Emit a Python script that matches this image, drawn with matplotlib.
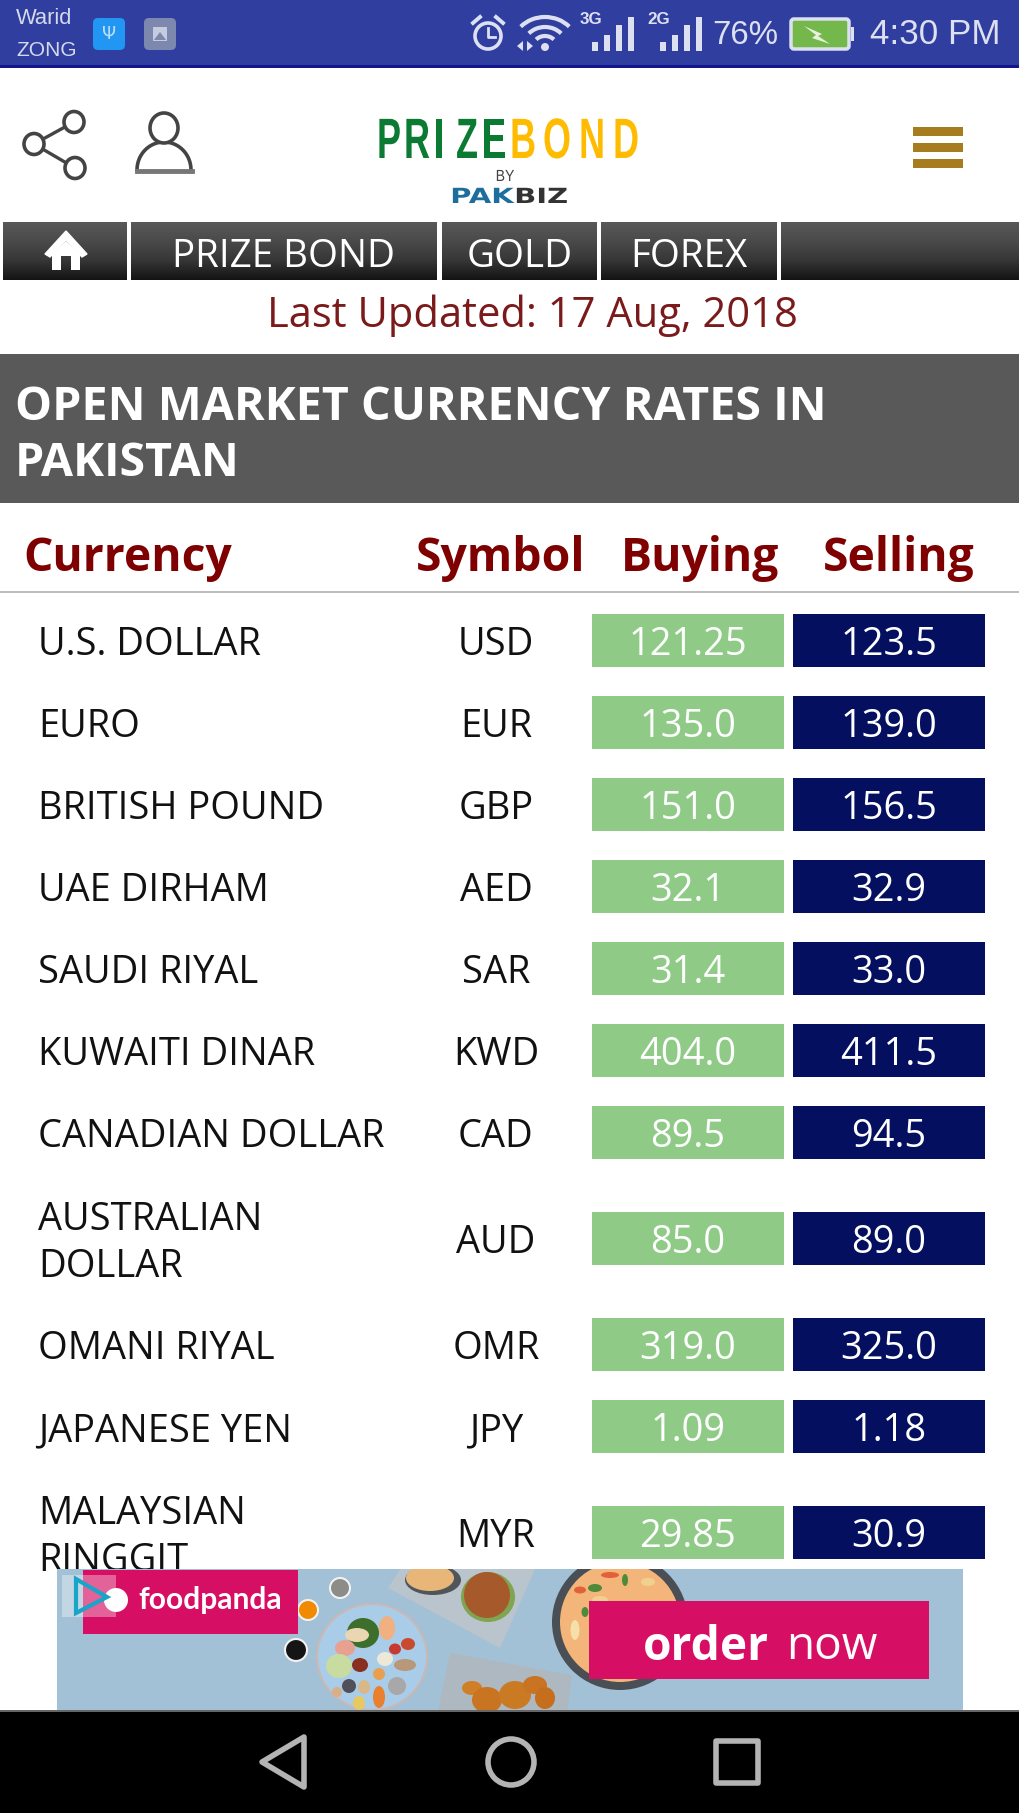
import numpy as np
import matplotlib
matplotlib.use('Agg')
import matplotlib.pyplot as plt
import matplotlib.patheffects as pe
from matplotlib.transforms import Affine2D
from matplotlib.patches import Circle, Ellipse, Polygon, Rectangle, FancyBboxPatch, Arc

# table content
currencies = ['U.S. DOLLAR', 'EURO', 'BRITISH POUND', 'UAE DIRHAM', 'SAUDI RIYAL', 'KUWAITI DINAR',
              'CANADIAN DOLLAR', 'AUSTRALIAN\nDOLLAR', 'OMANI RIYAL', 'JAPANESE YEN', 'MALAYSIAN\nRINGGIT']
symbols = ['USD', 'EUR', 'GBP', 'AED', 'SAR', 'KWD', 'CAD', 'AUD', 'OMR', 'JPY', 'MYR']
buying = ['121.25', '135.0', '151.0', '32.1', '31.4', '404.0', '89.5', '85.0', '319.0', '1.09', '29.85']
selling = ['123.5', '139.0', '156.5', '32.9', '33.0', '411.5', '94.5', '89.0', '325.0', '1.18', '30.9']
headers = ['Currency', 'Symbol', 'Buying', 'Selling']
nav_items = ['PRIZE BOND', 'GOLD', 'FOREX']

W, H = 1020, 1813
FONT = 'Open Sans'
SANS = 'Liberation Sans'
ICON = '#DDE0F0'

fig = plt.figure(figsize=(W / 100, H / 100), dpi=100)
ax = fig.add_axes([0, 0, 1, 1])


class VStretch(pe.AbstractPathEffect):
    # stretches glyphs vertically around a baseline, the logo lettering is very condensed
    def __init__(self, sy, y0):
        super().__init__()
        self.sy, self.y0 = sy, y0

    def draw_path(self, renderer, gc, tpath, affine, rgbFace=None):
        a = affine + Affine2D().translate(0, -self.y0).scale(1, self.sy).translate(0, self.y0)
        renderer.draw_path(gc, tpath, a, rgbFace)


def txt(x, y, s, px, color='black', ha='center', weight='normal', family=FONT, z=5, dy=5):
    # px is the font size in image pixels
    return ax.text(x, y + dy, s, fontsize=px * 0.72, color=color, ha=ha, va='center',
                   fontweight=weight, family=family, zorder=z)


def stretched(x, base, s, px, sy, color, weight='bold', family=SANS, z=5):
    t = ax.text(x, base, s, fontsize=px * 0.72, color=color, ha='center', va='baseline',
                fontweight=weight, family=family, zorder=z)
    t.set_path_effects([VStretch(sy, H - base)])
    return t


def box(x0, y0, x1, y1, color, z=2, **kw):
    p = Rectangle((x0, y0), x1 - x0, y1 - y0, facecolor=color, edgecolor='none', zorder=z, **kw)
    ax.add_patch(p)
    return p


# status bar
box(0, 0, W, 65, '#303F9F')
box(0, 65, W, 68, '#14148C')
txt(16, 18, 'Warid', 22, '#D5D9EC', ha='left', family=SANS, dy=0)
txt(16, 50, 'ZONG', 21, '#D5D9EC', ha='left', family=SANS, dy=0)
ax.add_patch(FancyBboxPatch((97, 22), 24, 24, boxstyle='round,pad=4,rounding_size=5', fc='#2196F3', ec='none', zorder=3))
ax.add_patch(FancyBboxPatch((148, 22), 24, 24, boxstyle='round,pad=4,rounding_size=5', fc='#7C88AE', ec='none', zorder=3))
box(153, 27, 167, 41, '#C5CBE0', z=4)
ax.add_patch(Polygon([[154, 40], [160, 32], [166, 40]], fc='#7C88AE', ec='none', zorder=5))
txt(109, 34, 'Ψ', 18, '#BBDDF8', z=4, family='DejaVu Sans', dy=0)

# alarm clock
ax.add_patch(Circle((488, 36), 13, fc='none', ec=ICON, lw=2.6, zorder=4))
ax.plot([488, 488, 495], [28, 37, 37], color=ICON, lw=2, zorder=4)
ax.plot([473, 480], [23, 17], color=ICON, lw=2.8, zorder=4)
ax.plot([496, 503], [17, 23], color=ICON, lw=2.8, zorder=4)
# wifi
for d in [60, 40, 22]:
    ax.add_patch(Arc((545, 47), d * 1.1, d, theta1=220, theta2=320, ec=ICON, lw=3, zorder=4))
ax.add_patch(Circle((545, 47), 4, fc=ICON, ec='none', zorder=4))
ax.add_patch(Polygon([[517, 46], [523, 41], [523, 51]], fc=ICON, ec='none', zorder=4))
ax.add_patch(Polygon([[533, 46], [527, 41], [527, 51]], fc=ICON, ec='none', zorder=4))
# signal bars
for x0, lab in [(592, '3G'), (660, '2G')]:
    txt(x0 - 1, 19, lab, 17, ICON, family=SANS, weight='bold', z=4, dy=0)
    for i, top in enumerate([42, 35, 25, 17]):
        box(x0 + i * 12, top, x0 + i * 12 + 6, 51, ICON, z=4)
txt(745, 35, '76%', 33, ICON, family=SANS, z=4, dy=0)
# battery
ax.add_patch(FancyBboxPatch((792, 20), 56, 28, boxstyle='round,pad=1,rounding_size=3', fc='#74B84B', ec=ICON, lw=2.5, zorder=4))
box(851, 27, 854, 41, ICON, z=4)
ax.add_patch(Polygon([[804, 26], [822, 34], [818, 36], [830, 44], [812, 38], [816, 35]], fc='#E8F2DF', ec='none', zorder=5))
txt(935, 35, '4:30 PM', 35, ICON, family=SANS, z=4, dy=0)

# header icons
for c in [(74, 122), (34, 144), (75, 168)]:
    ax.add_patch(Ellipse(c, 20, 21, fc='white', ec='#444444', lw=2.6, zorder=4))
ax.plot([74, 34, 75], [122, 144, 168], color='#444444', lw=2.4, zorder=3)
ax.add_patch(Ellipse((164, 128), 28, 30, fc='white', ec='#444444', lw=2.6, zorder=4))
t = np.linspace(np.pi, 2 * np.pi, 40)
ax.plot(164 + 27 * np.cos(t), 170 + 28 * np.sin(t), color='#444444', lw=2.6, zorder=3)
ax.plot([137, 192], [171, 171], color='#777777', lw=3.5, zorder=3)

# logo, letter by letter
for ch, x in zip('PRIZE', [389, 417, 439, 467, 494]):
    stretched(x, 158, ch, 36, 1.58, '#0B7A33')
for ch, x in zip('BOND', [523, 557, 592, 626]):
    stretched(x, 158, ch, 36, 1.58, '#FFBB00')
stretched(505, 181, 'BY', 14, 1.15, '#444444', weight='normal')
stretched(482, 203, 'PAK', 29, 0.72, '#1C6E9C', family='DejaVu Sans')
stretched(541, 203, 'BIZ', 29, 0.72, '#333333', family='DejaVu Sans')

for y0 in [127, 143, 159]:
    box(913, y0, 963, y0 + 9, '#A67C1E')

# navigation bar
grad = np.linspace(0, 1, 64).reshape(-1, 1)
nav_cmap = matplotlib.colors.LinearSegmentedColormap.from_list('nav', ['#585858', '#4A4A4A', '#363636', '#141414'])
nav_parts = [(3, 127), (131, 437), (442, 597), (601, 777), (781, 1020)]
for x0, x1 in nav_parts:
    ax.imshow(grad, extent=(x0, x1, 280, 222), cmap=nav_cmap, aspect='auto', zorder=2)
for (x0, x1), s in zip(nav_parts[1:4], nav_items):
    txt((x0 + x1) / 2, 252, s, 38.5, 'white')
ax.add_patch(Polygon([[66, 231], [45, 254], [50, 257], [66, 240], [82, 257], [87, 254]], fc='white', ec='white', lw=1, zorder=4))
ax.add_patch(Polygon([[52, 254], [66, 241], [80, 254], [80, 270], [71, 270], [71, 256], [61, 256], [61, 270], [52, 270]],
                     fc='white', ec='none', zorder=4))

txt(532, 311, 'Last Updated: 17 Aug, 2018', 41.6, '#7B1A1A')

# title band
box(0, 354, W, 503, '#595959')
txt(15, 402, 'OPEN MARKET CURRENCY RATES IN', 46.7, 'white', ha='left', weight='bold')
txt(15, 459, 'PAKISTAN', 46.7, 'white', ha='left', weight='bold')

# column heads
head_x = [23, 501, 700, 899]
head_ha = ['left', 'center', 'center', 'center']
for x, s, a in zip(head_x, headers, head_ha):
    txt(x, 554, s, 46.3, '#7F0000', ha=a, weight='bold')
box(0, 591, W, 593, '#BDBDBD')

# rows: two line names take more room
row_h = [130 if '\n' in c else 82 for c in currencies]
row_y = []
pos = 599
for h in row_h:
    row_y.append(pos + h / 2)
    pos += h

BUY_X, SELL_X, CELL_W, CELL_H = 592, 793, 192, 53
ax.barh(row_y, [CELL_W] * len(row_y), left=BUY_X, height=CELL_H, color='#8FCB87', zorder=2)
ax.barh(row_y, [CELL_W] * len(row_y), left=SELL_X, height=CELL_H, color='#04105F', zorder=2)

for y, c, s, b, v in zip(row_y, currencies, symbols, buying, selling):
    parts = c.split('\n')
    if len(parts) == 1:
        txt(38, y, c, 38, '#111111', ha='left', z=3)
    else:
        txt(38, y - 23, parts[0], 38, '#111111', ha='left', z=3)
        txt(38, y + 24, parts[1], 38, '#111111', ha='left', z=3)
    txt(496, y, s, 38, '#111111', z=3)
    txt(BUY_X + CELL_W / 2, y, b, 38, 'white', z=3)
    txt(SELL_X + CELL_W / 2, y, v, 38, 'white', z=3)

# advert
ad = box(57, 1569, 963, 1711, '#A3C1D6', z=6)


def ad_patch(p, z=7):
    p.set_zorder(z)
    ax.add_patch(p)
    p.set_clip_path(ad)
    return p


def blobs(items, z=9):
    for x, y, w, h, col in items:
        ad_patch(Ellipse((x, y), w, h, fc=col, ec='none'), z=z)


# pizza
ad_patch(Circle((620, 1622), 68, fc='#4A4F55', ec='none'))
ad_patch(Circle((620, 1622), 60, fc='#F3B57A', ec='none'), z=8)
blobs([(595, 1588, 14, 8, '#4F8A3A'), (625, 1580, 6, 12, '#4F8A3A'), (585, 1612, 7, 10, '#4F8A3A'),
       (580, 1590, 12, 7, '#E2603A'), (610, 1575, 18, 6, '#E2603A'), (648, 1582, 14, 8, '#F0D090'),
       (575, 1630, 9, 20, '#F7E0A8'), (600, 1600, 16, 8, '#F0D090')])
# burger and fries
ad_patch(Polygon([[388, 1588], [403, 1565], [537, 1565], [500, 1648]], fc='#B9C4CC', ec='none'))
ad_patch(Ellipse((433, 1580), 56, 30, fc='#50555A', ec='none'), z=8)
ad_patch(Ellipse((430, 1578), 48, 26, fc='#E8B678', ec='none'), z=9)
ad_patch(Ellipse((488, 1597), 54, 50, fc='#7FA550', ec='none'), z=8)
ad_patch(Ellipse((487, 1595), 46, 46, fc='#A65A2C', ec='none'), z=9)
# condiments
for x, y, r, col in [(340, 1588, 10, '#8C8C88'), (308, 1610, 10, '#F18A00'), (296, 1650, 11, '#151515')]:
    ad_patch(Circle((x, y), r, fc=col, ec='#F2F2F2', lw=1.5))
# sushi plate, spots given in plate-local offsets
ad_patch(Ellipse((372, 1657), 110, 106, fc='#A9CDE8', ec='#C9B8B4', lw=1.5), z=8)
sushi = [(-9, -24, 32, 30, '#3E6E2C'), (-15, -22, 24, 14, '#EAD6B0'), (-27, -9, 20, 16, '#E8A090'),
         (15, -29, 16, 24, '#F0B080'), (36, -13, 14, 12, '#C84A30'), (23, -8, 12, 11, '#C83A30'),
         (13, 2, 16, 14, '#EEE8D8'), (33, 8, 22, 12, '#B89878'), (-33, 9, 26, 24, '#C8DCA0'),
         (-12, 8, 16, 14, '#8A2E20'), (7, 17, 12, 12, '#E8A050'), (-23, 29, 14, 14, '#50505A'),
         (-8, 30, 12, 14, '#D8B888'), (25, 29, 18, 18, '#A8A8A8'), (7, 40, 12, 22, '#E88030'),
         (-13, 46, 12, 14, '#E8C860'), (-35, 35, 10, 10, '#D8B088')]
blobs([(372 + dx, 1657 + dy, w, h, col) for dx, dy, w, h, col in sushi])
# chicken
ad_patch(Polygon([[450, 1653], [572, 1675], [567, 1715], [437, 1715]], fc='#AEB8C0', ec='none'))
blobs([(472, 1688, 20, 14, '#D07E28'), (487, 1700, 30, 26, '#C97420'), (515, 1695, 32, 28, '#CB7A24'),
       (535, 1685, 24, 18, '#C87422'), (545, 1698, 20, 22, '#C46E1E')])

box(83, 1570, 298, 1634, '#D70F64', z=10)
box(62, 1575, 116, 1617, '#FFFFFF', z=11, alpha=0.35)
ax.add_patch(Polygon([[76, 1579], [76, 1613], [107, 1597]], fc='none', ec='#19A5C8', lw=3, zorder=12))
ax.add_patch(Circle((116, 1600), 12, fc='white', ec='none', zorder=11))
txt(210, 1600, 'foodpanda', 30, 'white', weight='bold', family='Lato', z=12, dy=0)
box(589, 1601, 929, 1679, '#D70F64', z=10)
txt(706, 1642, 'order', 46, 'white', weight='bold', z=12)
txt(832, 1642, 'now', 46, 'white', z=12)

# android nav bar
box(0, 1711, W, H, 'black', z=13)
box(0, 1710, W, 1712, '#666666', z=13)
ax.add_patch(Polygon([[304, 1737], [262, 1762], [304, 1787]], fc='none', ec='#B4B4B4', lw=4, joinstyle='round', zorder=14))
ax.add_patch(Circle((511, 1762), 23, fc='none', ec='#B4B4B4', lw=4, zorder=14))
ax.add_patch(Rectangle((716, 1741), 42, 42, fc='none', ec='#B4B4B4', lw=4, joinstyle='round', zorder=14))

ax.set_xlim(0, W)
ax.set_ylim(H, 0)
ax.axis('off')
fig.savefig('out.png', dpi=100, facecolor='white')
